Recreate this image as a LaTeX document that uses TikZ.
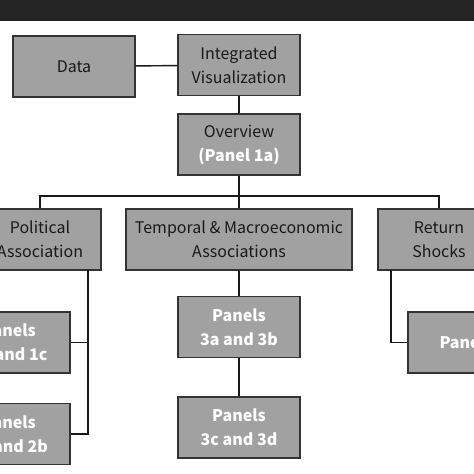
\documentclass[tikz,border=0pt]{standalone}
\usepackage{fontspec}
\setmainfont{Noto Sans CJK JP}
\usepackage{tikz}
\usetikzlibrary{arrows}
\usetikzlibrary{shapes}

\begin{document}
\begin{tikzpicture}[x=1pt,y=-1pt,
  box/.style={draw=black!80,line width=1.2pt,fill=black!37,minimum width=122pt,
    minimum height=61pt,align=center,inner sep=0pt,
    font=\fontsize{16}{24}\selectfont,text=black!90},
  panel/.style={box,font=\fontsize{16}{24}\selectfont\bfseries,text=white},
  link/.style={line width=1.4pt,black!90}]
  \useasboundingbox (0,0) rectangle (474,474);
  \clip (0,0) rectangle (474,474);
  \fill[white] (0,0) rectangle (474,474);
  \fill[black!86] (0,0) rectangle (474,21);

  \node[box] at (74,66.5) (data){Data};
  \node[box] at (239,65) (intvis){Integrated\\Visualization};
  \node[box] at (239,144.5) (overview){Overview\\\textcolor{white}{\bfseries (Panel 1a)}};

  \node[box] at (40,239.5) (polit){Political\\Association};
  \node[box,minimum width=226pt] at (239,239.5) (temporal){Temporal \& Macroeconomic\\Associations};
  \node[box] at (439,239.5) (ret){Return\\Shocks};

  \node[panel] at (9,342.5) (p1bc){Panels\\1b and 1c};
  \node[panel] at (9,434) (p2ab){Panels\\2a and 2b};
  \node[panel] at (239,327) (p3ab){Panels\\3a and 3b};
  \node[panel] at (239,427.5) (p3cd){Panels\\3c and 3d};
  \node[panel] at (469,342.5) (p4){Panel 4};

  \coordinate (bus) at (239,196);
  \coordinate (pv) at (88,270);
  \coordinate (rv) at (391,270);

  \draw[link] (data) -- (intvis);
  \draw[link] (intvis) -- (overview);
  \draw[link] (overview) -- (temporal);
  \draw[link] (polit.north) |- (bus) -| (ret.north);
  \draw[link] (pv) |- (p2ab.east);
  \draw[link] (p1bc.east) -- (p1bc.east -| pv);
  \draw[link] (temporal) -- (p3ab);
  \draw[link] (p3ab) -- (p3cd);
  \draw[link] (rv) |- (p4.west);
\end{tikzpicture}
\end{document}
